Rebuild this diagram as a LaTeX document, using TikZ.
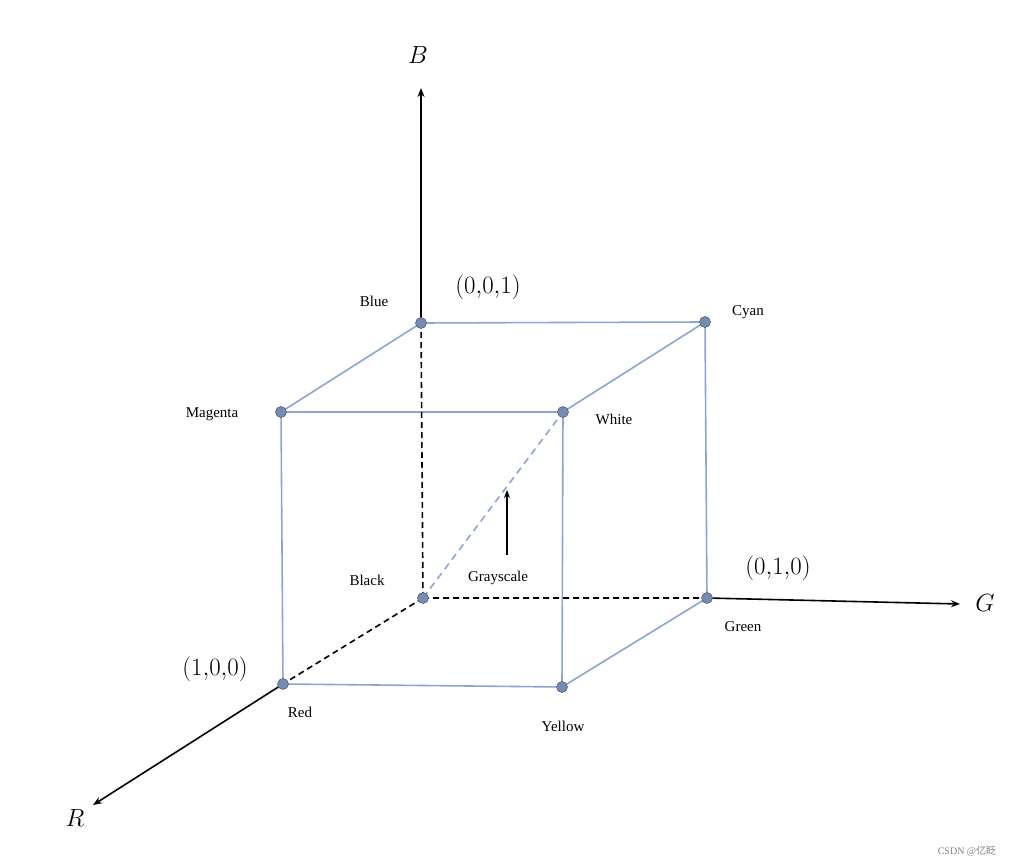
\documentclass[tikz,border=0pt]{standalone}
\usepackage{fontspec}
\setmainfont{Liberation Serif}
\newfontfamily\cjk{Noto Sans CJK SC}
\usetikzlibrary{arrows.meta}
\begin{document}
\begin{tikzpicture}[x=1pt,y=-1pt,
  edge/.style={draw=lb,line width=1.6pt},
  axis/.style={draw=black,line width=1.6pt,-{Stealth[length=9pt,width=7pt]}},
  hid/.style={draw=black,line width=1.6pt,dash pattern=on 6pt off 4pt},
  pt/.style={circle,fill=lb!85!black,draw=lb!60!black,line width=0.6pt,inner sep=0pt,minimum size=11pt},
  lbl/.style={font=\fontsize{15}{17}\selectfont},
  mlbl/.style={font=\fontsize{24}{28}\selectfont}]
\definecolor{lb}{RGB}{140,165,210}
\useasboundingbox (0,0) rectangle (1018,866);
\fill[white] (0,0) rectangle (1018,866);
\coordinate (K) at (423,598);
\coordinate (Bl) at (421,323);
\coordinate (C) at (705,322);
\coordinate (M) at (281,412);
\coordinate (W) at (563,412);
\coordinate (Rd) at (283,684);
\coordinate (Y) at (562,687);
\coordinate (Gr) at (707,598);
\coordinate (Bt) at (421,88);
\coordinate (Gt) at (960,604);
\coordinate (Rt) at (93,805);
\coordinate (ga) at (507,555);
\coordinate (gb) at (507,490);
\draw[edge] (Bl)--(C) (Bl)--(M) (C)--(W) (M)--(W) (M)--(Rd) (W)--(Y) (C)--(Gr) (Rd)--(Y) (Y)--(Gr);
\draw[edge,dash pattern=on 7pt off 5pt] (K)--(W);
\draw[hid] (K)--(Bl) (K)--(Gr) (K)--(Rd);
\draw[axis] (Bl)--(Bt);
\draw[axis] (Gr)--(Gt);
\draw[axis] (Rd)--(Rt);
\draw[line width=1.2pt,-{Stealth[length=8pt,width=6pt]}] (ga)--(gb);
\foreach \p in {K,Bl,C,M,W,Rd,Y,Gr} \node[pt] (n\p) at (\p) {};
\node[lbl] (tBl) at (374,301) {Blue};
\node[lbl] (tC) at (748,312) {Cyan};
\node[lbl] (tM) at (212,414) {Magenta};
\node[lbl] (tW) at (614,419) {White};
\node[lbl] (tK) at (367,580) {Black};
\node[lbl] (tGs) at (498,578) {Grayscale};
\node[lbl] (tR) at (300,712) {Red};
\node[lbl] (tG) at (743,627) {Green};
\node[lbl] (tY) at (563,726) {Yellow};
\node[mlbl] (mB) at (418,55) {$B$};
\node[mlbl] (mG) at (985,603) {$G$};
\node[mlbl] (mR) at (75,818) {$R$};
\node[mlbl] (c1) at (488,287) {$(0{,}0{,}1)$};
\node[mlbl] (c2) at (778,568) {$(0{,}1{,}0)$};
\node[mlbl] (c3) at (215,669) {$(1{,}0{,}0)$};
\node[text=gray,font=\fontsize{10}{12}\selectfont] (wm) at (967,851) {CSDN @{\cjk 亿眨}};
\end{tikzpicture}
\end{document}
